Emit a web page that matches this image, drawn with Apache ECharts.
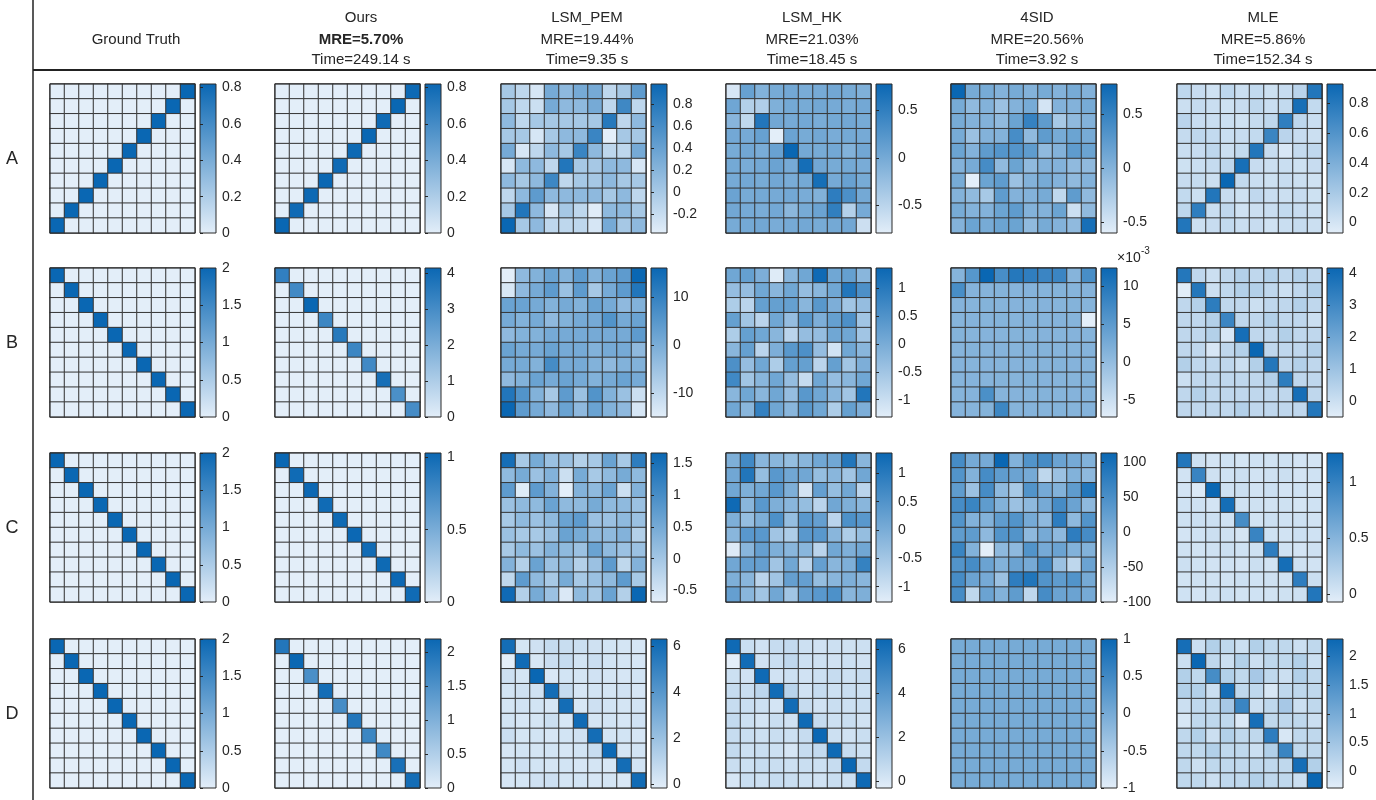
<!DOCTYPE html>
<html><head><meta charset="utf-8">
<script src="https://cdn.jsdelivr.net/npm/echarts@6/dist/echarts.min.js"></script>
<style>html,body{margin:0;padding:0;background:#fff}#chart{width:1376px;height:800px}</style>
</head><body><div id="chart"></div>
<script>
// ---------- text ----------
const methods = ['Ground Truth', 'Ours', 'LSM_PEM', 'LSM_HK', '4SID', 'MLE'];
const mreText = ['', 'MRE=5.70%', 'MRE=19.44%', 'MRE=21.03%', 'MRE=20.56%', 'MRE=5.86%'];
const timeText = ['', 'Time=249.14 s', 'Time=9.35 s', 'Time=18.45 s', 'Time=3.92 s', 'Time=152.34 s'];
const rowLabels = ['A', 'B', 'C', 'D'];
const cellCats = ['1','2','3','4','5','6','7','8','9','10'];

// ---------- row A ----------
const A_GT = [
[0,0,0,0,0,0,0,0,0,0.82],[0,0,0,0,0,0,0,0,0.82,0],[0,0,0,0,0,0,0,0.82,0,0],[0,0,0,0,0,0,0.82,0,0,0],[0,0,0,0,0,0.82,0,0,0,0],
[0,0,0,0,0.82,0,0,0,0,0],[0,0,0,0.82,0,0,0,0,0,0],[0,0,0.82,0,0,0,0,0,0,0],[0,0.82,0,0,0,0,0,0,0,0],[0.82,0,0,0,0,0,0,0,0,0]];
const A_OURS = [
[0,0,0,0,0,0,0,0,0,0.81],[0,0,0,0,0,0,0,0,0.82,0],[0,0,0,0,0,0,0,0.80,0,0],[0,0,0,0,0,0,0.82,0,0,0],[0,0,0,0,0,0.81,0,0,0,0],
[0,0,0,0,0.80,0,0,0,0,0],[0,0,0,0.82,0,0,0,0,0,0],[0,0,0.81,0,0,0,0,0,0,0],[0,0.80,0,0,0,0,0,0,0,0],[0.82,0,0,0,0,0,0,0,0,0]];
const A_PEM = [
[0.01,-0.14,-0.29,0.31,0.16,0.31,0.31,-0.14,0.01,0.46],
[0.01,-0.14,-0.22,0.31,0.16,0.16,0.31,-0.14,0.65,-0.14],
[0.16,-0.14,0.01,0.01,0.01,0.01,0.01,0.80,-0.14,0.16],
[0.01,0.01,-0.29,0.01,0.16,0.16,0.68,-0.37,0.01,0.01],
[0.31,-0.29,-0.14,0.16,0.01,0.68,0.16,-0.14,-0.14,0.31],
[-0.29,0.16,0.16,-0.14,0.83,0.01,0.01,0.16,0.16,-0.29],
[0.16,0.01,0.16,0.66,-0.14,0.01,0.01,0.16,0.01,0.01],
[-0.14,0.16,0.46,0.16,0.16,0.16,0.16,0.01,0.16,-0.14],
[0.01,0.83,0.16,-0.29,0.01,-0.14,-0.35,0.16,0.16,0.01],
[0.98,0.01,0.16,-0.14,-0.14,-0.14,-0.29,0.31,0.01,0.16]];
const A_HK = [
[-0.70,0.11,-0.09,-0.01,0.02,-0.02,0.00,0.03,-0.01,-0.07],
[0.05,-0.44,-0.42,-0.07,0.01,-0.01,0.03,0.00,-0.02,0.02],
[-0.13,-0.53,0.60,0.03,0.00,0.02,-0.02,0.01,0.03,-0.01],
[0.02,0.00,0.11,-0.79,0.08,-0.01,0.03,-0.02,0.01,0.00],
[-0.01,0.03,-0.02,0.09,0.78,0.01,-0.01,0.02,-0.09,0.03],
[0.01,-0.02,0.02,0.08,0.00,0.70,0.03,-0.01,0.01,-0.02],
[0.00,0.02,-0.01,0.03,-0.02,0.01,0.69,0.00,0.10,-0.01],
[0.08,-0.01,0.01,0.00,0.02,-0.02,-0.08,0.52,0.30,0.01],
[0.03,0.00,-0.02,0.02,-0.15,-0.01,0.08,0.50,-0.44,0.00],
[-0.01,0.01,0.03,-0.02,0.00,0.02,-0.01,0.01,0.03,-0.62]];
const A_4SID = [
[0.78,0.09,0.09,0.01,0.09,0.01,0.09,0.01,0.09,0.01],
[0.09,-0.07,0.01,-0.14,0.01,0.09,-0.50,0.01,0.01,0.09],
[0.09,0.01,0.01,-0.07,0.16,0.50,0.24,-0.22,-0.07,0.01],
[0.09,-0.14,0.01,0.01,0.39,-0.07,0.24,0.09,0.16,0.09],
[0.16,0.01,0.24,0.31,0.31,0.24,-0.07,0.01,0.24,0.16],
[0.01,0.09,0.40,-0.07,0.16,-0.07,0.01,0.01,-0.07,-0.07],
[0.09,-0.60,0.16,0.24,-0.14,0.01,0.09,0.01,-0.07,0.01],
[0.01,-0.07,-0.22,0.24,0.01,0.01,0.09,-0.37,0.24,-0.07],
[0.09,0.01,0.01,0.16,0.24,0.01,0.01,0.16,-0.45,-0.07],
[0.01,0.16,0.09,0.16,0.16,-0.07,0.09,0.01,-0.07,0.70]];
const A_MLE = [
[0.10,0.06,0.02,0.10,0.04,0.08,0.03,0.06,0.12,0.82],
[0.04,0.07,0.05,0.03,0.06,0.10,0.05,0.08,0.87,0.08],
[0.12,0.06,0.05,0.04,0.02,0.07,0.10,0.76,0.10,0.05],
[0.07,0.10,0.08,0.05,0.06,0.08,0.71,0.12,0.06,0.04],
[0.05,0.06,0.10,0.04,0.08,0.82,0.06,-0.02,0.07,0.09],
[0.03,0.05,0.07,0.10,0.87,0.06,0.04,0.05,0.03,0.06],
[0.06,0.07,0.04,0.93,0.08,0.05,0.03,0.06,0.04,0.02],
[0.08,0.04,0.82,0.06,0.03,0.09,0.05,0.04,0.06,0.03],
[0.10,0.76,0.05,0.09,0.02,0.04,0.05,0.08,0.06,0.04],
[0.82,0.04,0.06,0.08,0.05,0.06,0.02,0.05,0.07,0.04]];

// ---------- row B ----------
const B_GT = [
[2,0,0,0,0,0,0,0,0,0],[0,2,0,0,0,0,0,0,0,0],[0,0,2,0,0,0,0,0,0,0],[0,0,0,2,0,0,0,0,0,0],[0,0,0,0,2,0,0,0,0,0],
[0,0,0,0,0,2,0,0,0,0],[0,0,0,0,0,0,2,0,0,0],[0,0,0,0,0,0,0,2,0,0],[0,0,0,0,0,0,0,0,2,0],[0,0,0,0,0,0,0,0,0,2]];
const B_OURS = [
[3.4,0,0,0,0,0,0,0,0,0],[0,3.1,0,0,0,0,0,0,0,0],[0,0,4.15,0,0,0,0,0,0,0],[0,0,0,3.2,0,0,0,0,0,0],[0,0,0,0,3.6,0,0,0,0,0],
[0,0,0,0,0,3.2,0,0,0,0],[0,0,0,0,0,0,3.1,0,0,0],[0,0,0,0,0,0,0,3.9,0,0],[0,0,0,0,0,0,0,0,2.9,0],[0,0,0,0,0,0,0,0,0,3.0]];
const B_PEM = [
[-15.0,-2.9,-1.1,2.3,-1.1,4.1,-1.1,2.3,4.1,16.1],
[-13.3,-2.9,0.6,4.1,-4.6,4.1,-6.3,0.6,4.1,12.7],
[2.3,2.3,0.6,-1.1,0.6,-1.1,2.3,0.6,-2.9,-1.1],
[0.6,-1.1,0.6,-2.9,-1.1,0.6,0.6,5.8,0.6,2.3],
[-2.9,-1.1,-1.1,0.6,0.6,0.6,0.6,0.6,0.6,4.1],
[2.3,0.6,0.6,2.3,0.6,0.6,-1.1,0.6,0.6,-2.9],
[0.6,0.6,-1.1,7.5,0.6,0.6,-1.1,-2.9,-1.1,-1.1],
[-2.9,-1.1,2.3,0.6,2.3,0.6,-1.1,0.6,2.3,0.6],
[12.7,5.8,-1.1,-6.3,4.1,-4.6,5.8,-1.1,-4.6,-11.5],
[16.0,4.1,0.6,-2.9,2.3,-2.9,2.3,-1.1,-2.9,-13.2]];
const B_HK = [
[0.10,0.24,-0.05,-1.25,-0.20,0.10,1.30,0.10,0.24,-0.20],
[-0.35,-0.35,0.10,-0.20,0.10,-0.35,-0.20,0.10,1.07,0.54],
[-0.65,-0.80,0.24,0.24,0.24,-0.20,0.39,-0.05,-0.50,-0.35],
[0.24,-0.50,-0.80,0.10,-0.35,0.39,-0.05,0.24,0.54,-0.50],
[-0.65,0.24,0.10,-0.20,-0.80,-0.35,-0.35,0.10,0.10,-0.50],
[-0.20,0.24,-0.80,-0.05,0.39,0.54,-0.35,-1.09,0.10,-0.20],
[0.54,-0.35,0.10,-0.65,0.24,0.24,-0.80,0.24,-0.50,-0.05],
[0.69,-0.50,-0.20,0.10,-0.35,-0.94,0.10,-0.35,-0.20,0.10],
[-0.20,0.10,-0.20,0.10,-0.35,0.39,0.10,-0.20,-0.50,1.07],
[0.10,-0.20,0.84,0.10,-0.20,0.39,0.10,-0.65,0.24,-0.05]];
const B_4SID = [
[0.0012,0.0055,0.0124,0.0068,0.0100,0.0090,0.0080,0.0080,0.0012,0.0068],
[0.0068,0.0013,0.0012,0.0014,0.0012,0.0013,0.0012,0.0014,0.0012,0.0013],
[0.0013,0.0012,0.0014,0.0012,0.0013,0.0012,0.0013,0.0012,0.0014,0.0012],
[0.0012,0.0013,0.0012,0.0014,0.0012,0.0013,0.0012,0.0013,0.0012,-0.0072],
[0.0014,0.0012,0.0013,0.0012,0.0014,0.0012,0.0013,0.0012,0.0013,0.0012],
[0.0012,0.0014,0.0012,0.0013,0.0012,0.0013,0.0014,0.0012,0.0012,0.0013],
[0.0013,0.0012,0.0013,0.0012,0.0013,0.0012,0.0012,0.0014,0.0013,0.0012],
[0.0012,0.0013,0.0012,0.0014,0.0012,0.0014,0.0013,0.0012,0.0012,0.0014],
[0.0012,0.0013,0.0065,0.0012,0.0013,0.0012,0.0014,0.0012,0.0013,0.0012],
[0.0013,0.0012,0.0014,0.0078,0.0012,0.0013,0.0012,0.0014,0.0012,0.0013]];
const B_MLE = [
[3.60,0.28,0.02,0.28,0.53,0.28,0.53,0.28,0.53,0.28],
[-0.45,3.60,0.02,0.28,0.53,0.53,0.28,0.02,0.28,0.53],
[0.28,0.53,3.40,0.28,0.28,0.02,0.28,0.28,0.53,0.28],
[0.28,0.28,0.53,3.10,0.28,0.28,0.53,0.28,0.28,0.02],
[0.28,0.28,0.53,-0.24,3.90,0.28,0.28,0.53,0.28,0.28],
[0.28,0.28,-0.24,0.28,0.53,4.15,0.28,0.28,0.28,0.53],
[0.53,0.28,0.28,0.28,0.02,0.53,3.60,0.28,0.53,0.28],
[0.02,0.28,0.28,0.28,0.28,0.28,0.53,3.40,0.28,0.28],
[0.28,0.53,0.28,0.28,0.28,0.28,0.28,0.28,3.90,0.28],
[0.28,0.28,0.28,0.28,0.53,0.28,0.28,0.28,0.28,3.60]];

// ---------- row C ----------
const C_GT = [
[2,0,0,0,0,0,0,0,0,0],[0,2,0,0,0,0,0,0,0,0],[0,0,2,0,0,0,0,0,0,0],[0,0,0,2,0,0,0,0,0,0],[0,0,0,0,2,0,0,0,0,0],
[0,0,0,0,0,2,0,0,0,0],[0,0,0,0,0,0,2,0,0,0],[0,0,0,0,0,0,0,2,0,0],[0,0,0,0,0,0,0,0,2,0],[0,0,0,0,0,0,0,0,0,2]];
const C_OURS = [
[1.03,0,0,0,0,0,0,0,0,0],[0,1.00,0,0,0,0,0,0,0,0],[0,0,1.02,0,0,0,0,0,0,0],[0,0,0,1.00,0,0,0,0,0,0],[0,0,0,0,1.01,0,0,0,0,0],
[0,0,0,0,0,1.02,0,0,0,0],[0,0,0,0,0,0,1.00,0,0,0],[0,0,0,0,0,0,0,1.01,0,0],[0,0,0,0,0,0,0,0,1.02,0],[0,0,0,0,0,0,0,0,0,1.00]];
const C_PEM = [
[1.53,-0.03,0.49,0.10,0.10,-0.16,-0.03,0.62,-0.03,1.27],
[0.23,0.49,0.10,0.36,-0.42,0.49,-0.03,0.23,0.49,0.23],
[0.75,-0.62,0.75,0.36,-0.68,0.36,0.23,0.62,-0.42,0.36],
[0.10,0.23,0.23,0.62,0.23,0.23,0.49,0.23,0.23,0.10],
[-0.03,0.23,0.10,0.23,0.62,0.75,0.10,0.10,0.23,0.10],
[0.10,-0.03,-0.03,0.10,0.62,0.49,0.23,0.23,0.36,-0.16],
[-0.03,0.23,0.10,0.36,0.23,0.10,0.62,0.23,0.10,0.10],
[0.36,-0.16,0.62,0.10,0.23,-0.16,0.10,0.75,-0.29,0.36],
[-0.29,0.75,0.23,-0.03,0.49,-0.03,0.10,0.23,0.75,-0.03],
[1.60,-0.16,0.49,0.10,-0.58,0.23,-0.03,0.62,-0.16,1.66]];
const C_HK = [
[-0.04,0.69,-0.18,-0.18,-0.33,-0.18,0.11,0.11,1.07,-0.18],
[0.11,1.07,-0.33,0.40,0.11,0.11,-0.33,-0.18,-0.47,0.11],
[0.11,-0.04,0.11,0.40,-0.04,-1.06,0.26,-0.33,0.11,-0.77],
[1.30,-0.18,0.40,-0.04,-0.18,-0.33,-0.77,0.11,-0.04,-0.18],
[-0.04,-0.33,-0.04,0.55,-0.33,0.40,0.26,-0.77,0.55,0.40],
[-0.18,0.40,0.40,-0.47,-0.62,0.40,0.40,-0.18,-0.62,-0.33],
[-1.20,-0.18,0.26,-0.04,-0.18,-0.18,-0.77,0.11,-0.04,0.11],
[0.11,0.26,0.26,-0.47,0.11,-0.77,0.26,-0.18,-0.04,0.84],
[-0.04,-0.18,-0.77,-0.47,0.26,0.26,-0.33,-0.18,-0.04,-0.18],
[0.26,-0.18,-0.47,0.11,-0.47,0.26,0.40,0.55,-0.18,-0.04]];
const C_4SID = [
[54,7,7,113,-5,42,54,18,7,-5],
[42,-5,54,30,18,7,-64,-29,-5,-17],
[30,-29,54,-17,-41,42,7,-5,30,90],
[54,66,30,-5,-29,-17,7,54,18,-17],
[42,-5,-5,30,42,7,-17,78,-17,42],
[30,30,-17,42,42,-17,7,-17,78,54],
[66,-5,-100,-17,-17,42,7,18,-5,-5],
[42,54,18,-5,18,7,54,-29,-64,18],
[54,18,7,-29,78,90,42,30,42,7],
[54,-64,18,-5,30,-64,54,18,18,7]];
const C_MLE = [
[1.11,0.06,0.03,0.05,0.02,0.05,0.04,0.06,0.03,0.02],
[0.04,0.97,0.06,0.05,0.08,0.04,0.06,0.08,0.03,0.05],
[0.03,-0.02,1.26,0.06,0.08,0.04,0.07,0.03,0.05,0.02],
[0.05,0.06,0.03,1.19,0.05,0.06,0.04,0.06,0.02,0.05],
[0.06,0.08,0.07,0.05,0.89,0.04,0.07,0.05,0.06,0.04],
[0.03,0.05,0.08,0.06,0.02,0.97,0.05,0.04,0.07,0.05],
[0.05,0.04,0.06,0.08,0.05,0.06,1.04,0.05,0.03,0.06],
[0.07,0.05,0.04,0.05,0.03,0.08,0.04,1.19,0.06,0.04],
[0.04,0.06,0.05,0.04,0.07,0.05,0.06,0.05,1.04,0.08],
[0.05,0.03,0.06,0.07,0.04,0.05,0.04,0.06,0.07,1.11]];

// ---------- row D ----------
const D_GT = [
[2,0,0,0,0,0,0,0,0,0],[0,2,0,0,0,0,0,0,0,0],[0,0,2,0,0,0,0,0,0,0],[0,0,0,2,0,0,0,0,0,0],[0,0,0,0,2,0,0,0,0,0],
[0,0,0,0,0,2,0,0,0,0],[0,0,0,0,0,0,2,0,0,0],[0,0,0,0,0,0,0,2,0,0],[0,0,0,0,0,0,0,0,2,0],[0,0,0,0,0,0,0,0,0,2]];
const D_OURS = [
[1.95,0,0,0,0,0,0,0,0,0],[0,2.2,0,0,0,0,0,0,0,0],[0,0,1.55,0,0,0,0,0,0,0],[0,0,0,2.1,0,0,0,0,0,0],[0,0,0,0,1.6,0,0,0,0,0],
[0,0,0,0,0,1.95,0,0,0,0],[0,0,0,0,0,0,1.7,0,0,0],[0,0,0,0,0,0,0,1.65,0,0],[0,0,0,0,0,0,0,0,2.05,0],[0,0,0,0,0,0,0,0,0,2.1]];
const D_PEM = [
[6.00,0.30,0.45,0.75,0.65,0.55,0.45,0.35,0.30,0.25],
[-0.15,6.10,0.20,0.60,0.70,0.35,0.60,0.35,0.30,0.25],
[0.50,0.30,6.30,0.15,0.35,0.30,0.40,0.30,0.25,0.35],
[0.35,0.45,0.40,6.00,0.75,0.25,0.35,0.30,0.40,0.25],
[0.30,0.40,0.35,0.25,6.00,0.20,0.50,0.35,0.30,0.35],
[0.35,0.25,0.30,0.55,0.20,6.10,0.30,0.35,0.25,0.40],
[0.60,0.30,0.35,0.25,0.35,0.45,6.00,0.30,0.35,0.25],
[0.25,0.35,0.30,0.35,0.25,0.35,0.65,6.20,0.25,0.35],
[0.30,0.50,0.35,0.30,0.35,0.25,0.30,0.20,6.00,0.35],
[0.25,0.30,0.45,0.50,0.30,0.35,0.25,0.30,0.15,6.10]];
const D_HK = [
[6.30,0.50,0.30,0.60,0.70,0.40,0.30,0.40,0.35,0.40],
[-0.30,6.20,0.30,0.50,0.80,0.40,0.35,0.30,0.40,0.30],
[0.40,0.30,6.30,0.30,0.40,0.30,0.40,0.60,0.40,0.60],
[0.60,0.50,0.90,6.20,1.00,0.30,0.60,0.40,0.50,0.40],
[0.60,0.50,0.40,0.20,6.20,0.60,0.30,0.50,0.40,0.50],
[0.70,0.40,0.20,0.50,0.30,6.30,0.60,0.40,0.50,0.30],
[0.60,0.50,0.40,0.50,0.40,0.60,6.40,0.40,0.30,0.50],
[0.70,0.40,0.50,0.40,0.10,0.60,0.70,6.30,0.60,0.40],
[0.50,0.40,0.60,0.50,0.40,0.50,0.40,0.60,6.45,0.70],
[0.10,0.50,0.40,0.60,0.50,0.40,0.30,0.50,0.40,6.30]];
const D_4SID = [
[0,0,0,0,0,0,0,0,0,0],[0,0,0,0,0,0,0,0,0,0],[0,0,0,0,0,0,0,0,0,0],[0,0,0,0,0,0,0,0,0,0],[0,0,0,0,0,0,0,0,0,0],
[0,0,0,0,0,0,0,0,0,0],[0,0,0,0,0,0,0,0,0,0],[0,0,0,0,0,0,0,0,0,0],[0,0,0,0,0,0,0,0,0,0],[0,0,0,0,0,0,0,0,0,0]];
const D_MLE = [
[2.16,0.00,0.29,0.14,0.00,0.29,0.14,0.14,0.00,0.14],
[0.00,2.30,0.14,0.00,0.29,0.00,0.14,0.14,0.29,0.00],
[0.29,0.14,1.58,0.29,0.14,0.43,0.14,0.00,0.29,0.14],
[0.29,0.29,0.00,2.16,0.14,0.14,-0.15,0.14,0.14,0.14],
[0.00,0.14,0.14,0.43,1.73,0.00,0.14,0.43,0.00,0.14],
[-0.15,0.14,0.14,0.14,-0.20,2.16,0.14,0.14,0.14,0.00],
[0.14,0.29,0.00,0.29,0.14,0.14,1.87,-0.15,0.14,0.14],
[0.14,0.14,0.29,0.14,0.14,0.00,0.29,1.73,0.14,0.14],
[0.14,0.00,0.14,0.14,0.14,0.14,0.14,0.14,2.16,0.29],
[0.14,0.14,0.00,0.14,0.14,0.29,0.14,0.14,0.00,2.30]];

// ---------- colour limits and colorbar ticks ----------
const rangesA = [[0,0.82],[0,0.82],[-0.37,0.98],[-0.79,0.78],[-0.60,0.78],[-0.07,0.93]];
const rangesB = [[0,2],[0,4.15],[-15,16.1],[-1.31,1.36],[-0.0072,0.0124],[-0.5,4.15]];
const rangesC = [[0,2],[0,1.03],[-0.68,1.66],[-1.27,1.36],[-100,113],[-0.07,1.26]];
const rangesD = [[0,2],[0,2.2],[-0.15,6.3],[-0.3,6.45],[-1,1],[-0.29,2.3]];
const ticksA = [[0,0.2,0.4,0.6,0.8],[0,0.2,0.4,0.6,0.8],[-0.2,0,0.2,0.4,0.6,0.8],[-0.5,0,0.5],[-0.5,0,0.5],[0,0.2,0.4,0.6,0.8]];
const ticksB = [[0,0.5,1,1.5,2],[0,1,2,3,4],[-10,0,10],[-1,-0.5,0,0.5,1],[-0.005,0,0.005,0.01],[0,1,2,3,4]];
const ticksC = [[0,0.5,1,1.5,2],[0,0.5,1],[-0.5,0,0.5,1,1.5],[-1,-0.5,0,0.5,1],[-100,-50,0,50,100],[0,0.5,1]];
const ticksD = [[0,0.5,1,1.5,2],[0,0.5,1,1.5,2],[0,2,4,6],[0,2,4,6],[-1,-0.5,0,0.5,1],[0,0.5,1,1.5,2]];
const labelScaleB = [1,1,1,1,1000,1];

const matrices = [
  [A_GT, A_OURS, A_PEM, A_HK, A_4SID, A_MLE],
  [B_GT, B_OURS, B_PEM, B_HK, B_4SID, B_MLE],
  [C_GT, C_OURS, C_PEM, C_HK, C_4SID, C_MLE],
  [D_GT, D_OURS, D_PEM, D_HK, D_4SID, D_MLE]];
const ranges = [rangesA, rangesB, rangesC, rangesD];
const ticks = [ticksA, ticksB, ticksC, ticksD];
const labelScales = [[1,1,1,1,1,1], labelScaleB, [1,1,1,1,1,1], [1,1,1,1,1,1]];

// ---------- layout & style ----------
const COLORS = ['#e3eef9', '#0a67b3'];
const FONT = "'Liberation Sans', Arial, Helvetica, sans-serif";
const TXT = '#262626';
const colLeft = [50, 275, 501, 726, 951, 1177];
const rowTop = [84, 268, 453, 639];
const W = 145, H = 149, CB_OFF = 150, CB_W = 16;

const grids = [], xAxes = [], yAxes = [], series = [], visualMaps = [];
matrices.forEach((row, ri) => {
  row.forEach((mat, ci) => {
    const L = colLeft[ci], T = rowTop[ri];
    const rng = ranges[ri][ci], tk = ticks[ri][ci], sc = labelScales[ri][ci];
    const gi = grids.length;
    grids.push({ left: L, top: T, width: W, height: H, show: true, borderColor: '#2b2b2b', borderWidth: 1, backgroundColor: 'transparent', z: 3 });
    xAxes.push({ type: 'category', gridIndex: gi, data: cellCats, show: false });
    yAxes.push({ type: 'category', gridIndex: gi, data: cellCats, inverse: true, show: false });
    const si = series.length;
    const data = [];
    mat.forEach((r, y) => r.forEach((v, x) => data.push([x, y, v])));
    series.push({ type: 'heatmap', xAxisIndex: gi, yAxisIndex: gi, data, silent: true, progressive: 0,
      itemStyle: { borderColor: '#363636', borderWidth: 1 }, emphasis: { disabled: true } });
    visualMaps.push({ type: 'continuous', show: false, seriesIndex: si, dimension: 2, min: rng[0], max: rng[1], inRange: { color: COLORS } });
    const cg = grids.length;
    grids.push({ left: L + CB_OFF, top: T, width: CB_W, height: H, show: true, borderColor: '#2b2b2b', borderWidth: 1,
      backgroundColor: { type: 'linear', x: 0, y: 0, x2: 0, y2: 1, colorStops: [{ offset: 0, color: COLORS[1] }, { offset: 1, color: COLORS[0] }] } });
    xAxes.push({ type: 'value', gridIndex: cg, show: false, min: 0, max: 1 });
    yAxes.push({ type: 'value', gridIndex: cg, position: 'right', min: rng[0], max: rng[1],
      axisLine: { show: false }, splitLine: { show: false },
      axisTick: { show: true, length: 3, customValues: tk, lineStyle: { color: TXT, width: 1 } },
      axisLabel: { show: true, customValues: tk, margin: 6, color: TXT, fontSize: 14, fontFamily: FONT,
        formatter: v => String(Math.round(v * sc * 1000) / 1000) } });
  });
});

// ---------- header and frame ----------
const graphics = [
  { type: 'line', shape: { x1: 33, y1: 0, x2: 33, y2: 800 }, style: { stroke: '#222', lineWidth: 1.5 } },
  { type: 'line', shape: { x1: 33, y1: 70, x2: 1376, y2: 70 }, style: { stroke: '#222', lineWidth: 2 } }
];
methods.forEach((m, ci) => {
  const cx = colLeft[ci] + 86;
  const mk = (t, y, bold) => ({ type: 'text', x: cx, y, style: { text: t, fill: TXT, font: (bold ? 'bold ' : '') + '15px ' + FONT, textAlign: 'center', verticalAlign: 'middle' } });
  if (ci === 0) { graphics.push(mk(m, 40, false)); }
  else {
    graphics.push(mk(m, 18, false));
    graphics.push(mk(mreText[ci], 40, ci === 1));
    graphics.push(mk(timeText[ci], 60, false));
  }
});
rowLabels.forEach((lab, ri) => {
  graphics.push({ type: 'text', x: 12, y: rowTop[ri] + 75, style: { text: lab, fill: TXT, font: '18px ' + FONT, textAlign: 'center', verticalAlign: 'middle' } });
});
// exponent label of the B / 4SID colorbar
graphics.push({ type: 'text', x: 1117, y: 258, style: { text: '×10', fill: TXT, font: '14px ' + FONT, textAlign: 'left', verticalAlign: 'middle' } });
graphics.push({ type: 'text', x: 1141, y: 251, style: { text: '-3', fill: TXT, font: '10px ' + FONT, textAlign: 'left', verticalAlign: 'middle' } });

const chart = echarts.init(document.getElementById('chart'), null, { renderer: 'canvas' });
chart.setOption({
  animation: false,
  backgroundColor: '#fff',
  textStyle: { fontFamily: FONT },
  grid: grids, xAxis: xAxes, yAxis: yAxes, series, visualMap: visualMaps, graphic: graphics
});
</script></body></html>
